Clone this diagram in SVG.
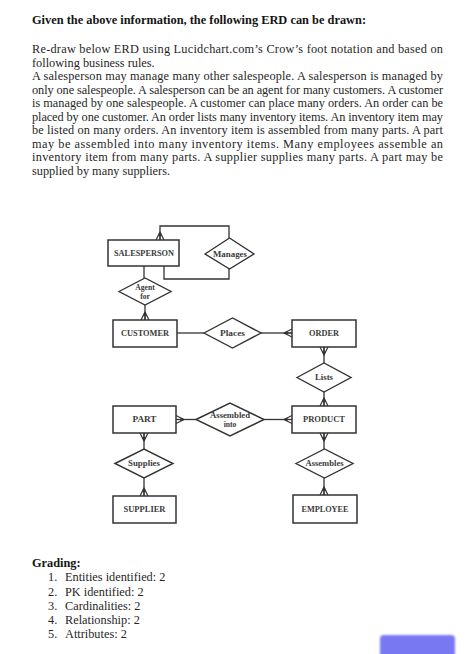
<svg xmlns="http://www.w3.org/2000/svg" width="474" height="654" viewBox="0 0 474 654">
<style>
.body{font-family:"Liberation Serif","Times New Roman",serif;font-size:12.3px;fill:#262626}
.title{font-family:"Liberation Serif","Times New Roman",serif;font-size:12.5px;font-weight:bold;fill:#141414}
.ent rect{fill:#fff;stroke:#333;stroke-width:1.5}
.rel polygon{fill:#fff;stroke:#333;stroke-width:1.4}
.elab{font-family:"Liberation Serif","Times New Roman",serif;font-size:7.6px;font-weight:bold;fill:#3a3a3a;text-anchor:middle;dominant-baseline:central}
.rlab{font-family:"Liberation Serif","Times New Roman",serif;font-size:7.6px;font-weight:bold;fill:#3a3a3a;text-anchor:middle;dominant-baseline:central}
.conn line,.conn polyline{fill:none;stroke:#333;stroke-width:1.3}
.many{marker-end:url(#crow)}
</style>
<defs>
<marker id="crow" markerUnits="userSpaceOnUse" viewBox="-2 -6 12 12" refX="8" refY="0" markerWidth="12" markerHeight="12" orient="auto" overflow="visible">
<path d="M0,0 L8,-4 M0,0 L8,0 M0,0 L8,4" fill="none" stroke="#333" stroke-width="1.2"/>
<path d="M-1,0 L3.5,-2 L3.5,2 Z" fill="#333"/>
</marker>
<filter id="soft" x="-10%" y="-30%" width="120%" height="160%"><feGaussianBlur stdDeviation="1.2"/></filter>
</defs>
<rect width="474" height="654" fill="#fff"/>

<text class="title" x="32" y="24" textLength="334" lengthAdjust="spacingAndGlyphs">Given the above information, the following ERD can be drawn:</text>

<g id="paragraph">
<text class="body" x="32" y="53" textLength="411" lengthAdjust="spacing">Re-draw below ERD using Lucidchart.com’s Crow’s foot notation and based on</text>
<text class="body" x="32" y="66.5">following business rules.</text>
<text class="body" x="32" y="80" textLength="411" lengthAdjust="spacing">A salesperson may manage many other salespeople. A salesperson is managed by</text>
<text class="body" x="32" y="93.5" textLength="411" lengthAdjust="spacing">only one salespeople. A salesperson can be an agent for many customers. A customer</text>
<text class="body" x="32" y="107" textLength="411" lengthAdjust="spacing">is managed by one salespeople. A customer can place many orders. An order can be</text>
<text class="body" x="32" y="120.5" textLength="411" lengthAdjust="spacing">placed by one customer. An order lists many inventory items. An inventory item may</text>
<text class="body" x="32" y="134" textLength="411" lengthAdjust="spacing">be listed on many orders. An inventory item is assembled from many parts. A part</text>
<text class="body" x="32" y="147.5" textLength="411" lengthAdjust="spacing">may be assembled into many inventory items. Many employees assemble an</text>
<text class="body" x="32" y="161" textLength="411" lengthAdjust="spacing">inventory item from many parts. A supplier supplies many parts. A part may be</text>
<text class="body" x="32" y="174.5">supplied by many suppliers.</text>
</g>

<g id="connectors" class="conn">
<polyline class="many" points="229,238 229,226 160,226 160,240"/>
<polyline points="164,266 164,279 229,279 229,269"/>
<line x1="144" y1="266" x2="144" y2="278"/>
<line class="many" x1="145" y1="305" x2="145" y2="320"/>
<line x1="177" y1="333" x2="204" y2="333"/>
<line class="many" x1="261" y1="333" x2="292" y2="333"/>
<line class="many" x1="324" y1="363" x2="324" y2="347"/>
<line class="many" x1="324" y1="392" x2="324" y2="406"/>
<line class="many" x1="196" y1="419.5" x2="176" y2="419.5"/>
<line class="many" x1="264" y1="419.5" x2="292" y2="419.5"/>
<line class="many" x1="324" y1="449" x2="324" y2="433"/>
<line class="many" x1="324" y1="478" x2="324" y2="495"/>
<line class="many" x1="144" y1="449" x2="144" y2="433"/>
<line class="many" x1="144" y1="478" x2="144" y2="496"/>
</g>

<g id="salesperson" class="ent"><rect x="108" y="240" width="71" height="26"/><text class="elab" x="144" y="253" textLength="60" lengthAdjust="spacingAndGlyphs">SALESPERSON</text></g>
<g id="manages" class="rel"><polygon points="205,254 229.5,238 254,254 229.5,269"/><text class="rlab" x="230" y="254" textLength="34" lengthAdjust="spacingAndGlyphs">Manages</text></g>
<g id="agentfor" class="rel"><polygon points="119,291.5 145,278 171,291.5 145,305"/><text class="rlab" x="145" y="287.5">Agent</text><text class="rlab" x="145" y="296">for</text></g>
<g id="customer" class="ent"><rect x="113" y="320" width="64" height="27"/><text class="elab" x="145" y="333.5" textLength="48" lengthAdjust="spacingAndGlyphs">CUSTOMER</text></g>
<g id="places" class="rel"><polygon points="204,333 232.5,318 261,333 232.5,348"/><text class="rlab" x="232.5" y="333" textLength="25" lengthAdjust="spacingAndGlyphs">Places</text></g>
<g id="order" class="ent"><rect x="292" y="320" width="64" height="27"/><text class="elab" x="324" y="333.5" textLength="30" lengthAdjust="spacingAndGlyphs">ORDER</text></g>
<g id="lists" class="rel"><polygon points="297,377.5 324,363 351,377.5 324,392"/><text class="rlab" x="324" y="377.5" textLength="18" lengthAdjust="spacingAndGlyphs">Lists</text></g>
<g id="product" class="ent"><rect x="292" y="406" width="64" height="27"/><text class="elab" x="324" y="419.5" textLength="42" lengthAdjust="spacingAndGlyphs">PRODUCT</text></g>
<g id="assembledinto" class="rel"><polygon points="196,419.5 230,403 264,419.5 230,436"/><text class="rlab" x="230" y="415" textLength="40" lengthAdjust="spacingAndGlyphs">Assembled</text><text class="rlab" x="230" y="424">into</text></g>
<g id="part" class="ent"><rect x="113" y="406" width="63" height="27"/><text class="elab" x="144.5" y="419.5" textLength="24" lengthAdjust="spacingAndGlyphs">PART</text></g>
<g id="supplies" class="rel"><polygon points="115,463.5 144,449 173,463.5 144,478"/><text class="rlab" x="144" y="463.5" textLength="32" lengthAdjust="spacingAndGlyphs">Supplies</text></g>
<g id="assembles" class="rel"><polygon points="296,463.5 324.5,449 353,463.5 324.5,478"/><text class="rlab" x="324.5" y="463.5" textLength="38" lengthAdjust="spacingAndGlyphs">Assembles</text></g>
<g id="supplier" class="ent"><rect x="113" y="496" width="63" height="27"/><text class="elab" x="144.5" y="509.5" textLength="42" lengthAdjust="spacingAndGlyphs">SUPPLIER</text></g>
<g id="employee" class="ent"><rect x="293" y="495" width="64" height="28"/><text class="elab" x="325" y="509" textLength="47" lengthAdjust="spacingAndGlyphs">EMPLOYEE</text></g>

<g id="grading">
<text class="title" x="32" y="567" style="font-size:12.3px">Grading:</text>
<text class="body" x="48" y="581">1.</text><text class="body" x="65" y="581">Entities identified: 2</text>
<text class="body" x="48" y="596">2.</text><text class="body" x="65" y="596">PK identified: 2</text>
<text class="body" x="48" y="610">3.</text><text class="body" x="65" y="610">Cardinalities: 2</text>
<text class="body" x="48" y="624">4.</text><text class="body" x="65" y="624">Relationship: 2</text>
<text class="body" x="48" y="638">5.</text><text class="body" x="65" y="638">Attributes: 2</text>
</g>

<rect x="380" y="635" width="75" height="26" rx="4" fill="#7878f2" filter="url(#soft)"/>
</svg>
